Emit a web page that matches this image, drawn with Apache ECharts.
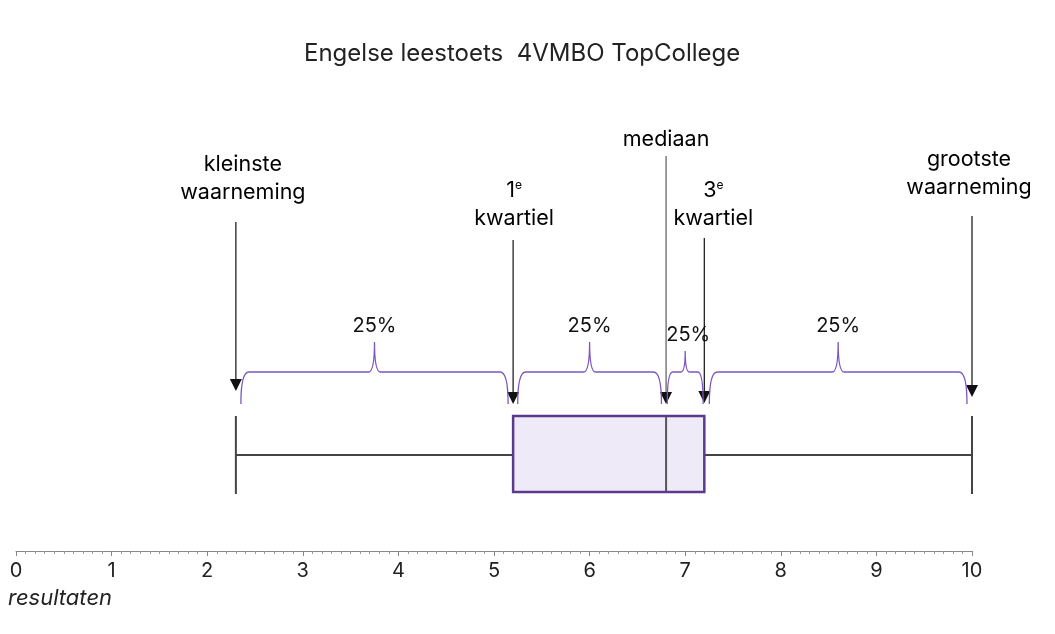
<!DOCTYPE html>
<html>
<head>
<meta charset="utf-8">
<script src="https://cdn.jsdelivr.net/npm/echarts@6/dist/echarts.min.js"></script>
<style>html,body{margin:0;padding:0;background:#fff}#c{width:1055px;height:634px}</style>
</head>
<body>
<div id="c"></div>
<script>
// ---- data ----
const title = 'Engelse leestoets  4VMBO TopCollege';
const axisName = 'resultaten';
const statNames = ['kleinste\nwaarneming', '1|e\nkwartiel', 'mediaan', '3|e\nkwartiel', 'grootste\nwaarneming'];
const statValues = [2.3, 5.2, 6.8, 7.2, 10];
const segmentLabels = ['25%', '25%', '25%', '25%'];
const axisMin = 0, axisMax = 10, axisStep = 1;

// ---- layout (pixels, not data) ----
const FONT = 'Inter, "Noto Sans", sans-serif';
const labelY = [165, 191, 140, 191, 160];
const labelDx = [7, 1, 0, 9, -3];
const arrowTop = [222, 240, 156, 238, 216];
const arrowTip = [391, 404, 404, 403, 397];
const arrowColor = ['#222', '#222', '#666', '#222', '#222'];
const boxTop = 416, boxBottom = 492, boxMid = 455;
const braceTopY = 372, braceBottomY = 404;

const chart = echarts.init(document.getElementById('c'), null, {renderer: 'canvas'});

function labelText(s) {
  return s.split('\n').map(line => {
    const p = line.split('|');
    return p.length > 1 ? '{a|' + p[0] + '}{s|' + p[1] + '}' : '{a|' + line + '}';
  }).join('\n');
}

const option = {
  animation: false,
  backgroundColor: '#fff',
  title: {
    text: title, left: 299, top: 37,
    textStyle: {fontFamily: FONT, fontSize: 24, fontWeight: 'normal', color: '#222'}
  },
  grid: {left: 16, right: 83, top: 0, bottom: 83},
  xAxis: {
    type: 'value', min: axisMin, max: axisMax, interval: axisStep,
    splitLine: {show: false},
    axisLine: {lineStyle: {color: '#888', width: 1}},
    axisTick: {show: true, length: 5, lineStyle: {color: '#888'}},
    minorTick: {show: true, splitNumber: 10, length: 3, lineStyle: {color: '#999'}},
    axisLabel: {margin: 10, fontFamily: FONT, fontSize: 20, color: '#222'}
  },
  yAxis: {type: 'value', min: 0, max: 1, show: false},
  graphic: [{
    type: 'text', left: 8, top: 587,
    style: {text: axisName, font: 'italic 22px ' + FONT, fill: '#222'}
  }],
  series: [
    {
      // box and whiskers
      type: 'custom', clip: false,
      data: [statValues],
      encode: {x: [0, 1, 2, 3, 4]},
      renderItem: function (params, api) {
        const px = i => api.coord([api.value(i), 0])[0];
        const xMin = px(0), xQ1 = px(1), xMed = px(2), xQ3 = px(3), xMax = px(4);
        const grey = {stroke: '#444', lineWidth: 2};
        return {
          type: 'group',
          children: [
            {type: 'line', shape: {x1: xMin, y1: boxMid, x2: xQ1, y2: boxMid}, style: grey},
            {type: 'line', shape: {x1: xQ3, y1: boxMid, x2: xMax, y2: boxMid}, style: grey},
            {type: 'line', shape: {x1: xMin, y1: boxTop, x2: xMin, y2: boxBottom + 2}, style: grey},
            {type: 'line', shape: {x1: xMax, y1: boxTop, x2: xMax, y2: boxBottom + 2}, style: grey},
            {type: 'rect', shape: {x: xQ1, y: boxTop, width: xQ3 - xQ1, height: boxBottom - boxTop},
              style: {fill: '#efeaf7', stroke: '#5b3a8e', lineWidth: 2.5}},
            {type: 'line', shape: {x1: xMed, y1: boxTop + 1, x2: xMed, y2: boxBottom - 1}, style: {stroke: '#555', lineWidth: 2}}
          ]
        };
      }
    },
    {
      // arrows with labels
      type: 'custom', clip: false,
      data: statValues.map((v, i) => [v, i]),
      encode: {x: 0},
      renderItem: function (params, api) {
        const i = api.value(1);
        const x = api.coord([api.value(0), 0])[0];
        const tip = arrowTip[i];
        return {
          type: 'group',
          children: [
            {type: 'line', shape: {x1: x, y1: arrowTop[i], x2: x, y2: tip - 10},
              style: {stroke: arrowColor[i], lineWidth: 1.3}},
            {type: 'polygon', shape: {points: [[x - 6, tip - 12], [x + 6, tip - 12], [x, tip]]},
              style: {fill: '#111'}},
            {type: 'text', x: x + labelDx[i], y: labelY[i] - 14,
              style: {
                text: labelText(statNames[i]), align: 'center', verticalAlign: 'top',
                rich: {
                  a: {fontFamily: FONT, fontSize: 21.5, color: '#111', lineHeight: 28},
                  s: {fontFamily: FONT, fontSize: 12, color: '#111', lineHeight: 28, padding: [0, 0, 12, 0]}
                }
              }
            }
          ]
        };
      }
    },
    {
      // braces between consecutive statistics
      type: 'custom', clip: false,
      data: segmentLabels.map((t, i) => [statValues[i], statValues[i + 1], i]),
      encode: {x: [0, 1]},
      renderItem: function (params, api) {
        const i = api.value(2);
        const a = api.coord([api.value(0), 0])[0];
        const b = api.coord([api.value(1), 0])[0];
        const w = b - a;
        const gap = Math.min(5, w * 0.03);
        const x1 = a + gap, x2 = b - gap;
        const xm = (x1 + x2) / 2;
        const r = Math.min(8, w / 7);
        const tipH = Math.min(30, w * 0.55);
        const tipY = braceTopY - tipH;
        const r2 = Math.min(6, w / 9);
        const d = 'M' + x1 + ' ' + braceBottomY +
          ' Q' + x1 + ' ' + braceTopY + ' ' + (x1 + r) + ' ' + braceTopY +
          ' L' + (xm - r2) + ' ' + braceTopY +
          ' Q' + xm + ' ' + braceTopY + ' ' + xm + ' ' + tipY +
          ' Q' + xm + ' ' + braceTopY + ' ' + (xm + r2) + ' ' + braceTopY +
          ' L' + (x2 - r) + ' ' + braceTopY +
          ' Q' + x2 + ' ' + braceTopY + ' ' + x2 + ' ' + braceBottomY;
        return {
          type: 'group',
          children: [
            {type: 'path', shape: {pathData: d}, style: {fill: 'none', stroke: '#7d55c0', lineWidth: 1.3}},
            {type: 'text', x: xm + (w < 60 ? 3 : 0), y: tipY - 16,
              style: {text: segmentLabels[i], align: 'center', verticalAlign: 'middle',
                font: '20px ' + FONT, fill: '#111'}}
          ]
        };
      }
    }
  ]
};
chart.setOption(option);
</script>
</body>
</html>
